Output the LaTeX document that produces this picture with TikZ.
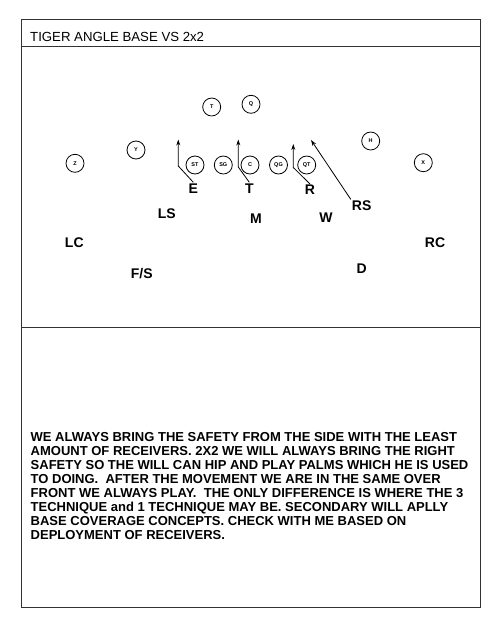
\documentclass[tikz,border=0pt]{standalone}
\usepackage{fontspec}
\setmainfont{Liberation Sans}
\usetikzlibrary{arrows.meta}
\begin{document}
\begin{tikzpicture}[x=1pt,y=-1pt,
  frame/.style={draw=black!80, line width=1pt},
  player/.style={circle, draw, line width=0.8pt, minimum size=18pt, inner sep=0pt, font=\fontsize{5.5}{6}\selectfont\bfseries},
  defl/.style={inner sep=1pt, font=\fontsize{14}{16}\selectfont\bfseries},
  para/.style={inner sep=0pt, anchor=base west, font=\fontsize{13}{14}\selectfont\bfseries},
  arr/.style={line width=0.8pt, -{Stealth[length=6pt,width=4pt]}}]
\useasboundingbox (0,0) rectangle (495,640);
\fill[white] (0,0) rectangle (495,640);
% frame
\draw[frame] (21,19) rectangle (480,607.5);
\draw[frame] (21,46.5) -- (480,46.5);
\draw[frame] (21,327) -- (480,327);
\node[inner sep=0pt, anchor=base west, font=\fontsize{13.2}{15}\selectfont] (title) at (30,41.5) {TIGER ANGLE BASE VS 2x2};
% offense
\node[player] (z) at (75,163.3) {Z};
\node[player] (y) at (136,150) {Y};
\node[player] (tb) at (211.7,107) {T};
\node[player] (q) at (251,104.3) {Q};
\node[player] (st) at (195,165) {ST};
\node[player] (sg) at (223.3,165) {SG};
\node[player] (c) at (250,165) {C};
\node[player] (qg) at (278.5,165) {QG};
\node[player] (qt) at (306.7,165) {QT};
\node[player] (h) at (370.7,141) {H};
\node[player] (x) at (423.3,162.7) {X};
% defense
\node[defl] (e) at (193.3,188.3) {E};
\node[defl] (tk) at (249.3,188.3) {T};
\node[defl] (r) at (310,190) {R};
\node[defl] (rs) at (361.7,205.5) {RS};
\node[defl] (ls) at (166.7,213.3) {LS};
\node[defl] (m) at (256,218.3) {M};
\node[defl] (w) at (326,217.3) {W};
\node[defl] (lc) at (74.3,242.7) {LC};
\node[defl] (rc) at (435,242.7) {RC};
\node[defl] (fs) at (141.7,273.3) {F/S};
\node[defl] (d) at (361.7,269) {D};
% movement
\coordinate (eb) at (178.3,166);
\coordinate (et) at (178.3,139.5);
\coordinate (tkb) at (238.3,167);
\coordinate (tkt) at (238.3,139.5);
\coordinate (rb) at (293.3,167.5);
\coordinate (rt) at (293.3,144);
\coordinate (rst) at (311,140);
\draw[arr] (e.north) -- (eb) -- (et);
\draw[arr] (tk.north) -- (tkb) -- (tkt);
\draw[arr] (r.north) -- (rb) -- (rt);
\draw[arr] (rs.north west) -- (rst);
% text
\foreach \t [count=\i] in {WE ALWAYS BRING THE SAFETY FROM THE SIDE WITH THE LEAST,
  AMOUNT OF RECEIVERS. 2X2 WE WILL ALWAYS BRING THE RIGHT,
  SAFETY SO THE WILL CAN HIP AND PLAY PALMS WHICH HE IS USED,
  TO DOING.~ AFTER THE MOVEMENT WE ARE IN THE SAME OVER,
  FRONT WE ALWAYS PLAY.~ THE ONLY DIFFERENCE IS WHERE THE 3,
  TECHNIQUE and 1 TECHNIQUE MAY BE. SECONDARY WILL APLLY,
  BASE COVERAGE CONCEPTS. CHECK WITH ME BASED ON,
  DEPLOYMENT OF RECEIVERS.}
  {\node[para] (p\i) at (30.5,{441.7+13.9*(\i-1)}) {\t};}
\end{tikzpicture}
\end{document}
